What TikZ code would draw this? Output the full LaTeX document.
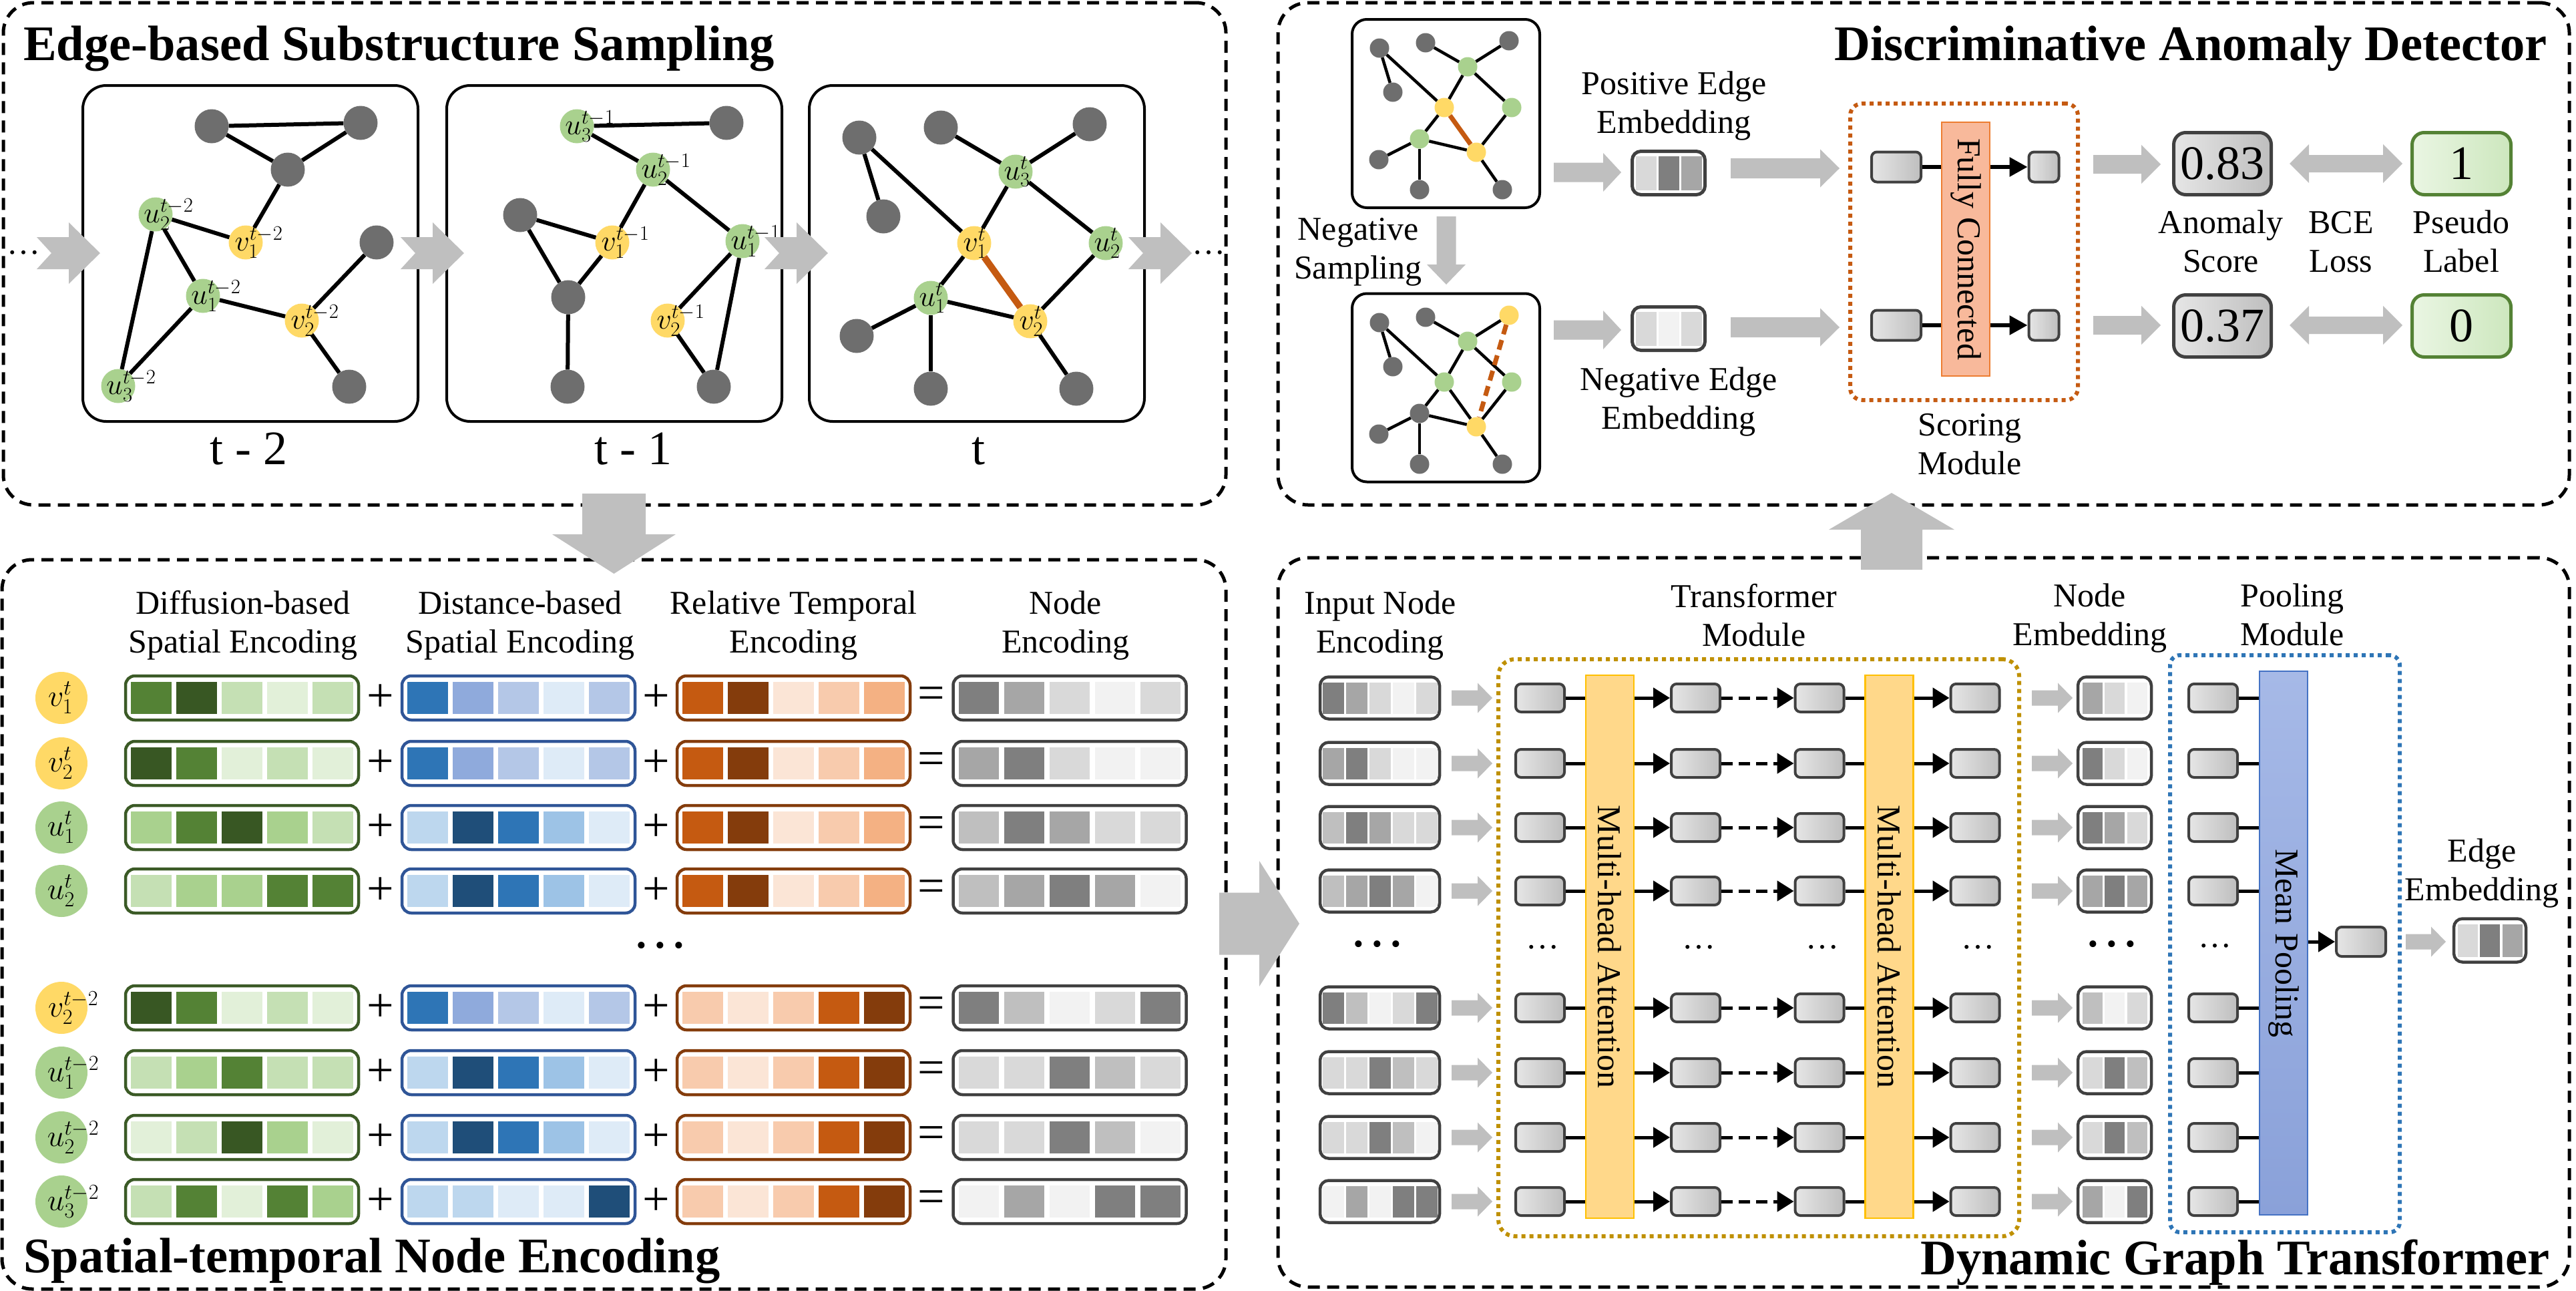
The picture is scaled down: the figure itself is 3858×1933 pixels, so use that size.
\documentclass[tikz,border=0pt]{standalone}
\usepackage{fix-cm}
\usepackage{fontspec}
\setmainfont{Liberation Serif}
\usepackage{mathtools}
\usetikzlibrary{arrows.meta,calc}

\definecolor{ngreen}{HTML}{A9D18E}
\definecolor{nyellow}{HTML}{FFD966}
\definecolor{ngray}{HTML}{6E6E6E}
\definecolor{eorange}{HTML}{C55A11}
\definecolor{agray}{HTML}{BFBFBF}
\definecolor{G1}{HTML}{385723}
\definecolor{G2}{HTML}{548235}
\definecolor{G3}{HTML}{A9D18E}
\definecolor{G4}{HTML}{C5E0B4}
\definecolor{G5}{HTML}{E2F0D9}
\definecolor{B1}{HTML}{1F4E79}
\definecolor{B2}{HTML}{2E75B6}
\definecolor{B3}{HTML}{9DC3E6}
\definecolor{B4}{HTML}{BDD7EE}
\definecolor{B5}{HTML}{DEEBF7}
\definecolor{B6}{HTML}{8FAADC}
\definecolor{B7}{HTML}{B4C7E7}
\definecolor{O1}{HTML}{843C0C}
\definecolor{O2}{HTML}{C55A11}
\definecolor{O3}{HTML}{F4B183}
\definecolor{O4}{HTML}{F8CBAD}
\definecolor{O5}{HTML}{FBE5D6}
\definecolor{K1}{HTML}{7F7F7F}
\definecolor{K2}{HTML}{A6A6A6}
\definecolor{K3}{HTML}{BFBFBF}
\definecolor{K4}{HTML}{D9D9D9}
\definecolor{K5}{HTML}{F2F2F2}
\definecolor{bgreen}{HTML}{3B5A26}
\definecolor{bblue}{HTML}{2F5597}
\definecolor{borange}{HTML}{843C0C}
\definecolor{bgray}{HTML}{404040}
\definecolor{sgl}{HTML}{E6E6E6}
\definecolor{sgd}{HTML}{BEBEBE}
\definecolor{lgl}{HTML}{EAF6E3}
\definecolor{lgd}{HTML}{CDE7BE}
\definecolor{fcfill}{HTML}{F8B99B}
\definecolor{fcdraw}{HTML}{ED7D31}
\definecolor{mhfill}{HTML}{FFD88A}
\definecolor{mhdraw}{HTML}{FFC000}
\definecolor{mpt}{HTML}{A6B9E7}
\definecolor{mpb}{HTML}{8AA1D9}
\definecolor{mpdraw}{HTML}{4472C4}
\definecolor{dgold}{HTML}{BF9000}
\definecolor{dblue}{HTML}{2E75B6}
\definecolor{dorange}{HTML}{C55A11}

\tikzset{
  panel/.style={draw=black, line width=5pt, dash pattern=on 18pt off 11pt, rounded corners=45pt, inner sep=0},
  gbox/.style={draw=black, line width=4pt, rounded corners=35pt, inner sep=0, minimum width=502pt, minimum height=503pt},
  mbox/.style={draw=black, line width=4pt, rounded corners=22pt, inner sep=0, minimum width=281pt, minimum height=282pt},
  gnode/.style={circle, inner sep=0, minimum size=51pt},
  mnode/.style={circle, inner sep=0, minimum size=29pt},
  rnode/.style={circle, inner sep=0, minimum size=78pt},
  gedge/.style={line width=6pt},
  medge/.style={line width=4.5pt},
  nl/.style={font=\fontsize{44}{44}\selectfont, inner sep=0, xshift=-5pt},
  rl/.style={font=\fontsize{46}{46}\selectfont, inner sep=0, xshift=-8pt},
  ttl/.style={font=\fontsize{74.5}{80}\selectfont\bfseries, anchor=base west, inner sep=0},
  lab/.style={font=\fontsize{50}{58}\selectfont, anchor=base, inner sep=0},
  tlab/.style={font=\fontsize{72}{72}\selectfont, anchor=base, inner sep=0},
  op/.style={font=\fontsize{72}{72}\selectfont, inner sep=0},
  dotsm/.style={font=\fontsize{50}{50}\selectfont, inner sep=0},
  dotbig/.style={font=\fontsize{42}{42}\selectfont, inner sep=0},
  vbox/.style={rectangle, rounded corners=14pt, line width=4.5pt, minimum width=349pt, minimum height=66pt, inner sep=0},
  ivbox/.style={rectangle, draw=bgray, rounded corners=13pt, line width=4.5pt, minimum width=179pt, minimum height=63pt, inner sep=0},
  evbox/.style={rectangle, draw=bgray, rounded corners=13pt, line width=4.5pt, minimum width=110pt, minimum height=63pt, inner sep=0},
  tebox/.style={rectangle, draw=bgray, rounded corners=13pt, line width=5pt, minimum width=109pt, minimum height=65pt, inner sep=0},
  sbox/.style={rectangle, draw=bgray, rounded corners=8pt, line width=4pt, left color=sgl, right color=sgd, minimum width=73pt, minimum height=42pt, inner sep=0},
  scbox/.style={rectangle, draw=bgray, rounded corners=18pt, line width=5pt, left color=sgl, right color=sgd, minimum width=146pt, minimum height=93pt, inner sep=0, font=\fontsize{72}{72}\selectfont},
  lbbox/.style={rectangle, draw=G2, rounded corners=18pt, line width=5pt, left color=lgl, right color=lgd, minimum width=148pt, minimum height=93pt, inner sep=0, font=\fontsize{72}{72}\selectfont},
  dotbox/.style={line width=6pt, dash pattern=on 6pt off 6pt, rounded corners=18pt, inner sep=0},
  bl/.style={line width=5pt},
  bla/.style={line width=5pt, -{Triangle[length=25pt,width=30pt]}},
  fla/.style={line width=6pt, -{Triangle[length=27pt,width=28pt]}},
}

\newcommand\rarrw[6]{\fill[agray] (#1,#2-#4) -- (#3-#6,#2-#4) -- (#3-#6,#2-#5) -- (#3,#2) -- (#3-#6,#2+#5) -- (#3-#6,#2+#4) -- (#1,#2+#4) -- cycle;}
\newcommand\darrw[6]{\fill[agray] (#1,#2) -- (#1+#6,#2-#5) -- (#1+#6,#2-#4) -- (#3-#6,#2-#4) -- (#3-#6,#2-#5) -- (#3,#2) -- (#3-#6,#2+#5) -- (#3-#6,#2+#4) -- (#1+#6,#2+#4) -- (#1+#6,#2+#5) -- cycle;}
\newcommand\chevw[2]{\fill[agray] (#1-95,#2-24) -- (#1-47,#2-24) -- (#1-47,#2-46) -- (#1,#2) -- (#1-47,#2+46) -- (#1-47,#2+24) -- (#1-95,#2+24) -- (#1-73,#2) -- cycle;}
\newcommand\cellrow[6]{%
  \foreach \cc [count=\ii from 0] in {#6}{%
    \fill[\cc] ($(#1.center)+({-((#2-1)*#4+#3)/2+\ii*#4},{-#5/2})$) rectangle ++(#3,#5);
  }%
}
\newcommand\bigdots{•\hspace{13pt}•\hspace{13pt}•}
\newcommand\gnd[6]{\node[gnode,fill=#2] (#1) at (#3) {}; \node[nl] (#1l) at (#1) {$#4^{\mathrlap{#6}}_{\mathrlap{#5}}$};}
\newcommand\twolab[5]{\node[lab] (#1a) at (#2,#3) {#4}; \node[lab] (#1b) at (#2,#3+58) {#5};}
\newcommand\erow[8]{%
  \node[rnode, fill=#3] (rc#1) at (92,#2) {};
  \node[rl] (rl#1) at (rc#1) {$#4$};
  \node[vbox, draw=bgreen] (vg#1) at (362.5,#2) {};
  \cellrow{vg#1}{5}{60.5}{68}{48}{#5}
  \node[op] (pa#1) at (569.5,#2) {+};
  \node[vbox, draw=bblue] (vb#1) at (776.5,#2) {};
  \cellrow{vb#1}{5}{60.5}{68}{48}{#6}
  \node[op] (pb#1) at (982.5,#2) {+};
  \node[vbox, draw=borange] (vo#1) at (1188.5,#2) {};
  \cellrow{vo#1}{5}{60.5}{68}{48}{#7}
  \node[op] (eq#1) at (1395,#2) {=};
  \node[vbox, draw=bgray] (vk#1) at (1602,#2) {};
  \cellrow{vk#1}{5}{60.5}{68}{48}{#8}
}
\newcommand\trow[4]{%
  \node[ivbox] (iv#1) at (2066.5,#2) {};
  \cellrow{iv#1}{5}{32}{35}{47}{#3}
  \rarrw{2174}{#2}{2235}{11.5}{22.5}{22}
  \node[sbox] (ta#1) at (2306.5,#2) {};
  \node[sbox] (tb#1) at (2539.5,#2) {};
  \node[sbox] (tc#1) at (2725,#2) {};
  \node[sbox] (td#1) at (2958,#2) {};
  \draw[bl] (ta#1.east) -- (ta#1.east -| MH1.west);
  \draw[bla] (tb#1.west -| MH1.east) -- (tb#1.west);
  \draw[bla, dash pattern=on 17pt off 9pt] (tb#1.east) -- (tc#1.west);
  \draw[bl] (tc#1.east) -- (tc#1.east -| MH2.west);
  \draw[bla] (td#1.west -| MH2.east) -- (td#1.west);
  \rarrw{3043}{#2}{3104}{11.5}{22.5}{22}
  \node[evbox] (ne#1) at (3167,#2) {};
  \cellrow{ne#1}{3}{30}{33.5}{47}{#4}
  \node[sbox] (pb#1) at (3314.5,#2) {};
  \draw[bl] (pb#1.east) -- (pb#1.east -| MP.west);
}

\begin{document}
\begin{tikzpicture}[x=1pt,y=-1pt]
\useasboundingbox (0,0) rectangle (3858,1933);

% ---------- panels ----------
\node[panel, minimum width=1831pt, minimum height=752pt] (P1) at (920.5,380) {};
\node[panel, minimum width=1934pt, minimum height=752pt] (P2) at (2881,380) {};
\node[panel, minimum width=1833pt, minimum height=1092pt] (P3) at (919.5,1384) {};
\node[panel, minimum width=1934pt, minimum height=1092pt] (P4) at (2881,1381) {};

\node[ttl] (T1) at (35,90) {Edge-based Substructure Sampling};
\node[ttl] (T2) at (2747,90) {Discriminative Anomaly Detector};
\node[ttl] (T3) at (35,1905) {Spatial-temporal Node Encoding};
\node[ttl] (T4) at (2876,1908) {Dynamic Graph Transformer};

% ---------- top-left: three snapshots ----------
\node[gbox] (GB1) at (375,379.5) {};
\node[gbox] (GB2) at (920,379.5) {};
\node[gbox] (GB3) at (1463,379.5) {};
\node[tlab] (TL1) at (372,695) {t - 2};
\node[tlab] (TL2) at (948,695) {t - 1};
\node[tlab] (TL3) at (1465,695) {t};

% snapshot t-2
\node[gnode,fill=ngray] (aG1) at (317,189) {};
\node[gnode,fill=ngray] (aG2) at (540,184) {};
\node[gnode,fill=ngray] (aG3) at (431,254) {};
\node[gnode,fill=ngray] (aG4) at (564,363) {};
\node[gnode,fill=ngray] (aG5) at (523,579) {};
\gnd{au2}{ngreen}{233,321}{u}{2}{t-2}
\gnd{av1}{nyellow}{368,363}{v}{1}{t-2}
\gnd{au1}{ngreen}{304,443}{u}{1}{t-2}
\gnd{av2}{nyellow}{452,480}{v}{2}{t-2}
\gnd{au3}{ngreen}{177,578}{u}{3}{t-2}
\draw[gedge] (aG1) -- (aG2);
\draw[gedge] (aG1) -- (aG3);
\draw[gedge] (aG2) -- (aG3);
\draw[gedge] (aG3) -- (av1);
\draw[gedge] (au2) -- (av1);
\draw[gedge] (au2) -- (au1);
\draw[gedge] (au2) -- (au3);
\draw[gedge] (au1) -- (au3);
\draw[gedge] (au1) -- (av2);
\draw[gedge] (av2) -- (aG4);
\draw[gedge] (av2) -- (aG5);

% snapshot t-1
\node[gnode,fill=ngray] (bG1) at (1088,184) {};
\node[gnode,fill=ngray] (bG2) at (779,322) {};
\node[gnode,fill=ngray] (bG3) at (851,445) {};
\node[gnode,fill=ngray] (bG4) at (850,579) {};
\node[gnode,fill=ngray] (bG5) at (1069,579) {};
\gnd{bu3}{ngreen}{864,189}{u}{3}{t-1}
\gnd{bu2}{ngreen}{978,254}{u}{2}{t-1}
\gnd{bv1}{nyellow}{917,363}{v}{1}{t-1}
\gnd{bu1}{ngreen}{1112,361}{u}{1}{t-1}
\gnd{bv2}{nyellow}{1000,480}{v}{2}{t-1}
\draw[gedge] (bu3) -- (bG1);
\draw[gedge] (bu3) -- (bu2);
\draw[gedge] (bu2) -- (bv1);
\draw[gedge] (bu2) -- (bu1);
\draw[gedge] (bG2) -- (bv1);
\draw[gedge] (bG2) -- (bG3);
\draw[gedge] (bv1) -- (bG3);
\draw[gedge] (bG3) -- (bG4);
\draw[gedge] (bu1) -- (bv2);
\draw[gedge] (bu1) -- (bG5);
\draw[gedge] (bv2) -- (bG5);

% snapshot t
\node[gnode,fill=ngray] (cGa) at (1287,206) {};
\node[gnode,fill=ngray] (cGb) at (1409,191) {};
\node[gnode,fill=ngray] (cGc) at (1632,186) {};
\node[gnode,fill=ngray] (cGd) at (1323,324) {};
\node[gnode,fill=ngray] (cGe) at (1283,503) {};
\node[gnode,fill=ngray] (cGf) at (1394,582) {};
\node[gnode,fill=ngray] (cGg) at (1612,582) {};
\gnd{cu3}{ngreen}{1521,257}{u}{3}{t}
\gnd{cv1}{nyellow}{1459,364}{v}{1}{t}
\gnd{cu2}{ngreen}{1656,364}{u}{2}{t}
\gnd{cu1}{ngreen}{1394,446}{u}{1}{t}
\gnd{cv2}{nyellow}{1543,481}{v}{2}{t}
\draw[gedge] (cGa) -- (cGd);
\draw[gedge] (cGa) -- (cv1);
\draw[gedge] (cGb) -- (cu3);
\draw[gedge] (cGc) -- (cu3);
\draw[gedge] (cu3) -- (cv1);
\draw[gedge] (cu3) -- (cu2);
\draw[gedge] (cv1) -- (cu1);
\draw[gedge] (cu1) -- (cv2);
\draw[gedge] (cu2) -- (cv2);
\draw[gedge] (cu1) -- (cGe);
\draw[gedge] (cu1) -- (cGf);
\draw[gedge] (cv2) -- (cGg);
\draw[line width=10pt, eorange] (cv1) -- (cv2);

\chevw{150}{379}
\chevw{695}{379}
\chevw{1240}{379}
\chevw{1785}{379}
\node[dotsm] (DL) at (35,378) {…};
\node[dotsm] (DR) at (1810,378) {…};

% big arrow down
\fill[agray] (872,739) -- (967,739) -- (967,800) -- (1012,800) -- (919.5,859) -- (827,800) -- (872,800) -- cycle;

% ---------- top-right: anomaly detector ----------
\node[mbox] (MB1) at (2165.5,170) {};
\node[mbox] (MB2) at (2165.5,580.5) {};
% positive
\node[mnode,fill=ngray] (pGa) at (2066,72) {};
\node[mnode,fill=ngray] (pGb) at (2135,64) {};
\node[mnode,fill=ngray] (pGc) at (2260,61) {};
\node[mnode,fill=ngray] (pGd) at (2086,138) {};
\node[mnode,fill=ngreen] (pu3) at (2198,100) {};
\node[mnode,fill=nyellow] (pv1) at (2163,161) {};
\node[mnode,fill=ngreen] (pu2) at (2264,161) {};
\node[mnode,fill=ngreen] (pu1) at (2126,208) {};
\node[mnode,fill=nyellow] (pv2) at (2211,228) {};
\node[mnode,fill=ngray] (pGe) at (2065,239) {};
\node[mnode,fill=ngray] (pGf) at (2126,284) {};
\node[mnode,fill=ngray] (pGg) at (2250,284) {};
\draw[medge] (pGa) -- (pGd);
\draw[medge] (pGa) -- (pv1);
\draw[medge] (pGb) -- (pu3);
\draw[medge] (pGc) -- (pu3);
\draw[medge] (pu3) -- (pv1);
\draw[medge] (pu3) -- (pu2);
\draw[medge] (pv1) -- (pu1);
\draw[medge] (pu1) -- (pv2);
\draw[medge] (pu2) -- (pv2);
\draw[medge] (pu1) -- (pGe);
\draw[medge] (pu1) -- (pGf);
\draw[medge] (pv2) -- (pGg);
\draw[line width=7pt, eorange] (pv1) -- (pv2);
% negative
\node[mnode,fill=ngray] (nGa) at (2066,483) {};
\node[mnode,fill=ngray] (nGb) at (2135,475) {};
\node[mnode,fill=nyellow] (nGc) at (2260,472) {};
\node[mnode,fill=ngray] (nGd) at (2086,549) {};
\node[mnode,fill=ngreen] (nu3) at (2198,511) {};
\node[mnode,fill=ngreen] (nv1) at (2163,572) {};
\node[mnode,fill=ngreen] (nu2) at (2264,572) {};
\node[mnode,fill=ngray] (nu1) at (2126,619) {};
\node[mnode,fill=nyellow] (nv2) at (2211,639) {};
\node[mnode,fill=ngray] (nGe) at (2065,650) {};
\node[mnode,fill=ngray] (nGf) at (2126,695) {};
\node[mnode,fill=ngray] (nGg) at (2250,695) {};
\draw[medge] (nGa) -- (nGd);
\draw[medge] (nGa) -- (nv1);
\draw[medge] (nGb) -- (nu3);
\draw[medge] (nGc) -- (nu3);
\draw[medge] (nu3) -- (nv1);
\draw[medge] (nu3) -- (nu2);
\draw[medge] (nv1) -- (nu1);
\draw[medge] (nv1) -- (nv2);
\draw[medge] (nu1) -- (nv2);
\draw[medge] (nu2) -- (nv2);
\draw[medge] (nu1) -- (nGe);
\draw[medge] (nu1) -- (nGf);
\draw[medge] (nv2) -- (nGg);
\draw[line width=7pt, eorange, dash pattern=on 15pt off 9pt] (nGc) -- (nv2);

% negative sampling arrow
\fill[agray] (2151.5,324) -- (2180.5,324) -- (2180.5,396) -- (2195,396) -- (2166,426) -- (2137,396) -- (2151.5,396) -- cycle;
\twolab{k3}{2034}{359}{Negative}{Sampling}

% embeddings
\rarrw{2327}{258}{2428}{14.5}{29}{27}
\rarrw{2327}{494}{2428}{14.5}{29}{27}
\node[tebox] (PE) at (2499,259) {};
\cellrow{PE}{3}{31}{34}{51}{K4,K1,K2}
\node[tebox] (NE) at (2499,492) {};
\cellrow{NE}{3}{31}{34}{51}{K4,K5,K4}
\twolab{k1}{2507}{141}{Positive Edge}{Embedding}
\twolab{k2}{2514}{584}{Negative Edge}{Embedding}
\rarrw{2592}{252}{2755}{15}{28.5}{29}
\rarrw{2592}{490}{2755}{15}{28.5}{29}

% scoring module
\node[dotbox, draw=dorange, minimum width=341pt, minimum height=444pt] (SM) at (2941.5,377) {};
\node[draw=fcdraw, line width=2.5pt, fill=fcfill, minimum width=72pt, minimum height=380pt, inner sep=0] (FC) at (2944,373) {};
\node[rotate=-90, font=\fontsize{50}{50}\selectfont, inner sep=0] (FCt) at (FC) {Fully Connected};
\node[sbox, minimum width=74pt, minimum height=45pt] (SL1) at (2840,250) {};
\node[sbox, minimum width=74pt, minimum height=45pt] (SL2) at (2840,487) {};
\node[sbox, minimum width=45pt, minimum height=45pt] (SR1) at (3061,250) {};
\node[sbox, minimum width=45pt, minimum height=45pt] (SR2) at (3061,487) {};
\draw[line width=6pt] (SL1.east) -- (SL1.east -| FC.west);
\draw[line width=6pt] (SL2.east) -- (SL2.east -| FC.west);
\draw[fla] (SR1.west -| FC.east) -- (SR1.west);
\draw[fla] (SR2.west -| FC.east) -- (SR2.west);
\twolab{k4}{2950}{652}{Scoring}{Module}

% scores and labels
\rarrw{3135}{246}{3236}{14}{29}{29}
\rarrw{3135}{487}{3236}{14}{29}{29}
\node[scbox] (S1) at (3328.5,245) {0.83};
\node[scbox] (S2) at (3328.5,488) {0.37};
\darrw{3429}{245}{3598}{13}{29}{29}
\darrw{3429}{487}{3598}{13}{29}{29}
\node[lbbox] (Y1) at (3686.5,245) {1};
\node[lbbox] (Y2) at (3686.5,488) {0};
\twolab{k5}{3326}{349}{Anomaly}{Score}
\twolab{k6}{3506}{349}{BCE}{Loss}
\twolab{k7}{3686}{349}{Pseudo}{Label}

% big arrow up
\fill[agray] (2787,853) -- (2879,853) -- (2879,793) -- (2927,793) -- (2833,738) -- (2739,793) -- (2787,793) -- cycle;

% ---------- bottom-left: node encoding ----------
\twolab{h1}{364}{919}{Diffusion-based}{Spatial Encoding}
\twolab{h2}{779}{919}{Distance-based}{Spatial Encoding}
\twolab{h3}{1188.5}{919}{Relative Temporal}{Encoding}
\twolab{h4}{1596}{919}{Node}{Encoding}

\erow{1}{1045}{nyellow}{v^{\mathrlap{t}}_{\mathrlap{1}}}{G2,G1,G4,G5,G4}{B2,B6,B7,B5,B7}{O2,O1,O5,O4,O3}{K1,K2,K4,K5,K4}
\erow{2}{1143}{nyellow}{v^{\mathrlap{t}}_{\mathrlap{2}}}{G1,G2,G5,G4,G5}{B2,B6,B7,B5,B7}{O2,O1,O5,O4,O3}{K2,K1,K4,K5,K5}
\erow{3}{1239}{ngreen}{u^{\mathrlap{t}}_{\mathrlap{1}}}{G3,G2,G1,G3,G4}{B4,B1,B2,B3,B5}{O2,O1,O5,O4,O3}{K3,K1,K2,K4,K4}
\erow{4}{1334}{ngreen}{u^{\mathrlap{t}}_{\mathrlap{2}}}{G4,G3,G3,G2,G2}{B4,B1,B2,B3,B5}{O2,O1,O5,O4,O3}{K3,K2,K1,K2,K5}
\erow{5}{1509}{nyellow}{v^{\mathrlap{t-2}}_{\mathrlap{2}}}{G1,G2,G5,G4,G5}{B2,B6,B7,B5,B7}{O4,O5,O4,O2,O1}{K1,K3,K5,K4,K1}
\erow{6}{1606}{ngreen}{u^{\mathrlap{t-2}}_{\mathrlap{1}}}{G4,G3,G2,G4,G4}{B4,B1,B2,B3,B5}{O4,O5,O4,O2,O1}{K4,K4,K1,K3,K4}
\erow{7}{1703}{ngreen}{u^{\mathrlap{t-2}}_{\mathrlap{2}}}{G5,G4,G1,G3,G5}{B4,B1,B2,B3,B5}{O4,O5,O4,O2,O1}{K4,K4,K1,K3,K5}
\erow{8}{1799}{ngreen}{u^{\mathrlap{t-2}}_{\mathrlap{3}}}{G4,G2,G5,G2,G3}{B4,B4,B5,B5,B1}{O4,O5,O4,O2,O1}{K5,K2,K5,K1,K1}
\node[dotbig] (DM) at (989,1420) {\bigdots};

% big arrow right
\rarrw{1826}{1383}{1946}{46.5}{94}{60}

% ---------- bottom-right: transformer ----------
\twolab{h5}{2067}{919}{Input Node}{Encoding}
\twolab{h6}{2627}{909}{Transformer}{Module}
\twolab{h7}{3130}{908}{Node}{Embedding}
\twolab{h8}{3433}{908}{Pooling}{Module}
\twolab{h9}{3717}{1290}{Edge}{Embedding}

\node[dotbox, draw=dgold, minimum width=780pt, minimum height=864pt, rounded corners=25pt] (TM) at (2634,1419) {};
\node[dotbox, draw=dblue, minimum width=344pt, minimum height=864pt, rounded corners=15pt] (PM) at (3422,1413) {};
\node[draw=mhdraw, line width=2.5pt, fill=mhfill, minimum width=72pt, minimum height=813pt, inner sep=0] (MH1) at (2411,1417.5) {};
\node[draw=mhdraw, line width=2.5pt, fill=mhfill, minimum width=72pt, minimum height=813pt, inner sep=0] (MH2) at (2829.5,1417.5) {};
\node[draw=mpdraw, line width=2.5pt, top color=mpt, bottom color=mpb, minimum width=72pt, minimum height=814pt, inner sep=0] (MP) at (3420,1412) {};
\node[rotate=-90, font=\fontsize{50}{50}\selectfont, inner sep=0] (MH1t) at (MH1) {Multi-head Attention};
\node[rotate=-90, font=\fontsize{50}{50}\selectfont, inner sep=0] (MH2t) at (MH2) {Multi-head Attention};
\node[rotate=-90, font=\fontsize{50}{50}\selectfont, inner sep=0] (MPt) at (MP) {Mean Pooling};

\trow{1}{1045}{K1,K2,K4,K5,K4}{K2,K4,K5}
\trow{2}{1143}{K2,K1,K4,K5,K5}{K1,K4,K5}
\trow{3}{1239}{K3,K1,K2,K4,K4}{K1,K2,K4}
\trow{4}{1334}{K3,K2,K1,K2,K5}{K2,K1,K2}
\trow{5}{1509}{K1,K3,K5,K4,K1}{K3,K5,K4}
\trow{6}{1606}{K4,K4,K1,K3,K4}{K4,K1,K3}
\trow{7}{1703}{K4,K4,K1,K3,K5}{K4,K1,K3}
\trow{8}{1799}{K5,K2,K5,K1,K1}{K2,K5,K1}

\node[dotbig] (D1) at (2063,1418) {\bigdots};
\node[dotsm] (D2) at (2310,1418) {…};
\node[dotsm] (D3) at (2544,1418) {…};
\node[dotsm] (D4) at (2729,1418) {…};
\node[dotsm] (D5) at (2962,1418) {…};
\node[dotbig] (D6) at (3163,1418) {\bigdots};
\node[dotsm] (D7) at (3317,1416) {…};

\node[sbox, minimum width=74pt, minimum height=44pt] (POUT) at (3536,1410) {};
\draw[bla] (POUT.west -| MP.east) -- (POUT.west);
\rarrw{3603}{1410}{3663}{11.5}{22.5}{22}
\node[evbox, minimum width=108pt, minimum height=65pt] (EE) at (3729,1408) {};
\cellrow{EE}{3}{30}{33.5}{49}{K4,K1,K2}

\end{tikzpicture}
\end{document}
